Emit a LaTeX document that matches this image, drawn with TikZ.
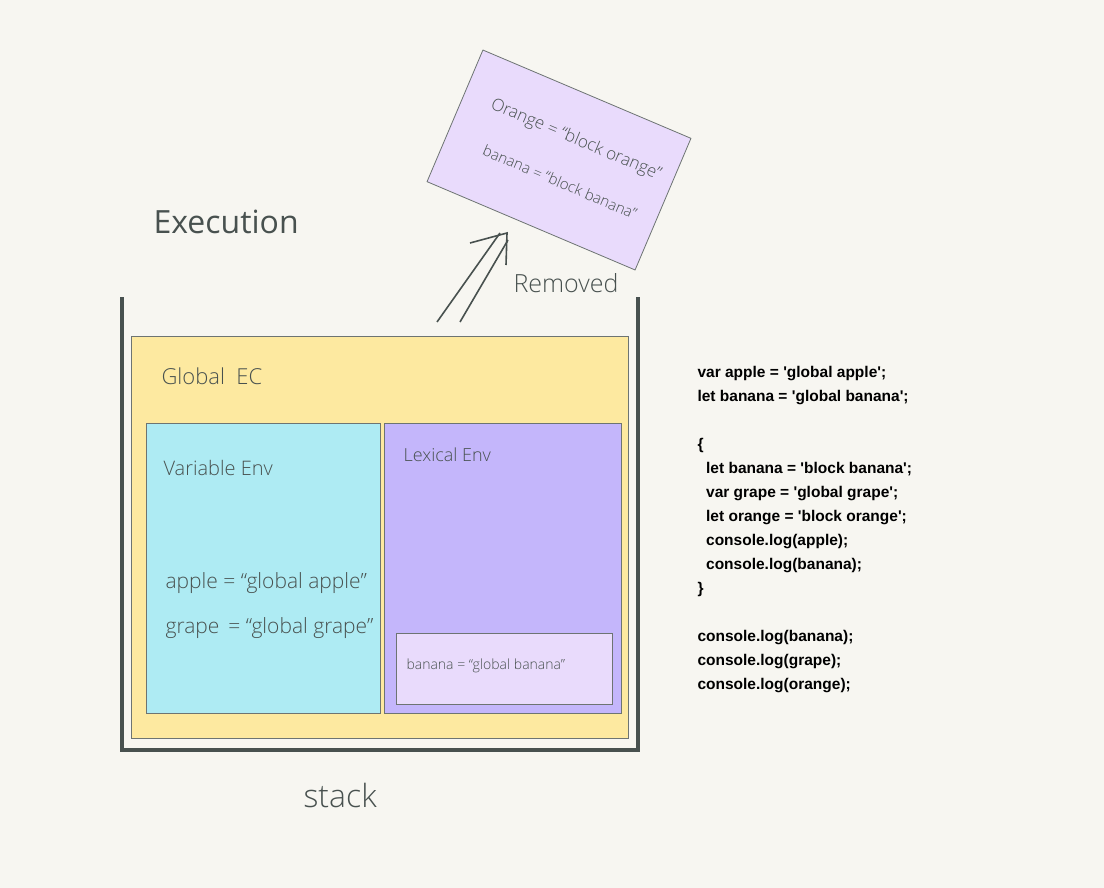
\documentclass[tikz,border=0pt]{standalone}
\usepackage{fontspec}
\setmainfont{Liberation Sans}
\newfontfamily\hand{Open Sans Light}
\newfontfamily\handmid{Open Sans}
\newcommand{\q}{\textquotesingle}
\begin{document}
\begin{tikzpicture}[x=1pt,y=-1pt,
  box/.style={draw=inkc!80,line width=0.8pt},
  wall/.style={draw=inkc,line width=3.5pt},
  handtxt/.style={font=\hand,text=inkc,anchor=west},
  code/.style={font=\bfseries\fontsize{15.5}{24}\selectfont,anchor=west,align=left,text=black}]
\definecolor{bgc}{HTML}{F7F6F1}
\definecolor{inkc}{HTML}{48514F}
\definecolor{yel}{HTML}{FDE9A0}
\definecolor{cyanb}{HTML}{AEEBF3}
\definecolor{purp}{HTML}{C4B6FB}
\definecolor{lpurp}{HTML}{E9DBFC}
\fill[bgc] (0,0) rectangle (1104,888);
\useasboundingbox (0,0) rectangle (1104,888);
\node[box,fill=yel,minimum width=497pt,minimum height=402pt,anchor=north west,inner sep=0] (gec) at (131,336) {};
\node[box,fill=cyanb,minimum width=234pt,minimum height=290pt,anchor=north west,inner sep=0] (venv) at (146,423) {};
\node[box,fill=purp,minimum width=237pt,minimum height=290pt,anchor=north west,inner sep=0] (lenv) at (384,423) {};
\node[box,fill=lpurp,minimum width=216pt,minimum height=71pt,anchor=north west,inner sep=0] (bban) at (396,633) {};
\draw[wall] (122,297) -- (122,750) -- (638,750) -- (638,297);
\node[handtxt,font=\handmid\fontsize{32}{32}\selectfont] (exe) at (150,222) {Execution};
\node[handtxt,font=\hand\fontsize{22}{22}\selectfont] (gl) at (158,376) {Global\ \ EC};
\node[handtxt,font=\hand\fontsize{20}{20}\selectfont] (vl) at (160,468) {Variable Env};
\node[handtxt,font=\hand\fontsize{18}{18}\selectfont] (ll) at (400,455) {Lexical Env};
\node[handtxt,font=\hand\fontsize{21}{21}\selectfont] (va) at (162,583) {apple = “global apple”};
\node[handtxt,font=\hand\fontsize{21}{21}\selectfont] (vg) at (162,628) {grape \,= “global grape”};
\node[handtxt,font=\hand\fontsize{14}{14}\selectfont] (lb) at (403,666) {banana = “global banana”};
\node[handtxt,font=\hand\fontsize{32}{32}\selectfont] (st) at (300,795) {stack};
\node[handtxt,font=\hand\fontsize{25}{25}\selectfont] (rm) at (510,283) {Removed};
\node[box,fill=lpurp,minimum width=226pt,minimum height=143pt,inner sep=0,rotate=-23] (card) at (559,160) {};
\node[font=\hand\fontsize{17}{17}\selectfont,text=inkc,rotate=-23] (c1) at (576,140) {Orange = “block orange”};
\node[font=\hand\fontsize{15}{15}\selectfont,text=inkc,rotate=-23] (c2) at (560,182) {banana = “block banana”};
\coordinate (a1) at (437,322); \coordinate (a2) at (500,233);
\coordinate (b1) at (460,322); \coordinate (b2) at (508,240);
\draw[inkc,line width=1.6pt] (a1) -- (a2);
\draw[inkc,line width=1.6pt] (b1) -- (b2);
\draw[inkc,line width=1.6pt] (470,243) -- (507,233) -- (506,265);
\node[code] (code) at (694,530) {var apple = \q global apple\q;\\
let banana = \q global banana\q;\\[24pt]
\{\\
\ \ let banana = \q block banana\q;\\
\ \ var grape = \q global grape\q;\\
\ \ let orange = \q block orange\q;\\
\ \ console.log(apple);\\
\ \ console.log(banana);\\
\}\\[24pt]
console.log(banana);\\
console.log(grape);\\
console.log(orange);};
\end{tikzpicture}
\end{document}
